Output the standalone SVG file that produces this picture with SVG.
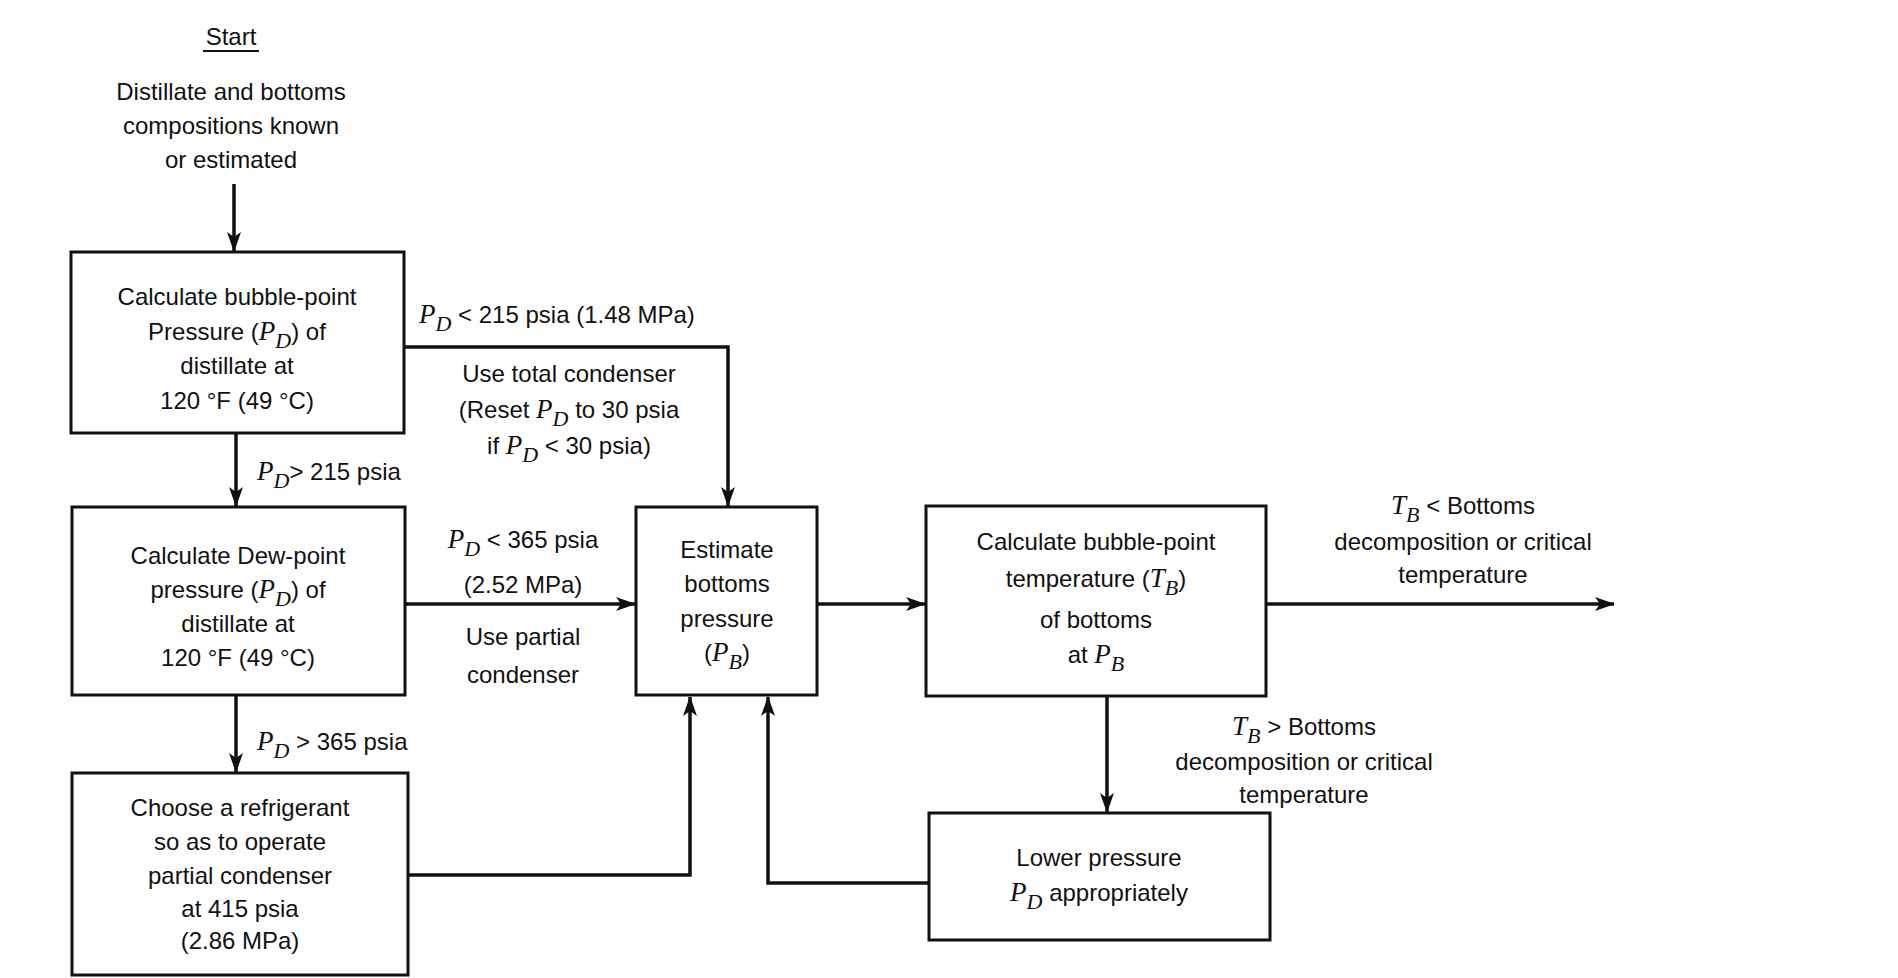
<svg xmlns="http://www.w3.org/2000/svg" width="1898" height="978" viewBox="0 0 1898 978">
<style>
text{font-family:"Liberation Sans",Arial,sans-serif;font-size:24px;fill:#111;text-anchor:middle}
.i{font-family:"Liberation Serif","Times New Roman",serif;font-style:italic;font-size:27px}
.s{font-family:"Liberation Serif","Times New Roman",serif;font-style:italic;font-size:22px}
.l{text-anchor:start}
rect{fill:#fff;stroke:#111;stroke-width:3}
.c{fill:none;stroke:#111;stroke-width:3.5}
</style>
<defs><marker id="a" viewBox="0 0 20 14" refX="19" refY="7" markerWidth="20" markerHeight="14" markerUnits="userSpaceOnUse" orient="auto"><path d="M0,0 L20,7 L0,14 L5,7 z" fill="#111"/></marker></defs>
<g id="start">
<text x="231" y="45">Start</text><line x1="203" y1="51" x2="259" y2="51" stroke="#111" stroke-width="2"/>
<text x="231" y="100">Distillate and bottoms</text>
<text x="231" y="134">compositions known</text>
<text x="231" y="168">or estimated</text>
</g>
<g id="connectors">
<path class="c" d="M234,184 V251" marker-end="url(#a)"/>
<path class="c" d="M404,347 H728 V506" marker-end="url(#a)"/>
<path class="c" d="M236,433 V506" marker-end="url(#a)"/>
<path class="c" d="M405,604 H635" marker-end="url(#a)"/>
<path class="c" d="M236,695 V772" marker-end="url(#a)"/>
<path class="c" d="M817,604 H925" marker-end="url(#a)"/>
<path class="c" d="M1266,604 H1614" marker-end="url(#a)"/>
<path class="c" d="M1107,696 V812" marker-end="url(#a)"/>
<path class="c" d="M929,883 H768 V697" marker-end="url(#a)"/>
<path class="c" d="M408,875 H690 V697" marker-end="url(#a)"/>
</g>
<g id="labels">
<text x="419" y="323" class="l"><tspan class="i">P</tspan><tspan class="s" dy="8">D</tspan><tspan dy="-8"> &lt; 215 psia (1.48 MPa)</tspan></text>
<text x="569" y="382">Use total condenser</text>
<text x="569" y="418">(Reset <tspan class="i">P</tspan><tspan class="s" dy="8">D</tspan><tspan dy="-8"> to 30 psia</tspan></text>
<text x="569" y="454">if <tspan class="i">P</tspan><tspan class="s" dy="8">D</tspan><tspan dy="-8"> &lt; 30 psia)</tspan></text>
<text x="257" y="480" class="l"><tspan class="i">P</tspan><tspan class="s" dy="8">D</tspan><tspan dy="-8">&gt; 215 psia</tspan></text>
<text x="523" y="548"><tspan class="i">P</tspan><tspan class="s" dy="8">D</tspan><tspan dy="-8"> &lt; 365 psia</tspan></text>
<text x="523" y="593">(2.52 MPa)</text>
<text x="523" y="645">Use partial</text>
<text x="523" y="683">condenser</text>
<text x="257" y="750" class="l"><tspan class="i">P</tspan><tspan class="s" dy="8">D</tspan><tspan dy="-8"> &gt; 365 psia</tspan></text>
<text x="1463" y="514"><tspan class="i">T</tspan><tspan class="s" dy="8">B</tspan><tspan dy="-8"> &lt; Bottoms</tspan></text>
<text x="1463" y="550">decomposition or critical</text>
<text x="1463" y="583">temperature</text>
<text x="1304" y="735"><tspan class="i">T</tspan><tspan class="s" dy="8">B</tspan><tspan dy="-8"> &gt; Bottoms</tspan></text>
<text x="1304" y="770">decomposition or critical</text>
<text x="1304" y="803">temperature</text>
</g>
<g id="n1"><rect x="71" y="252" width="333" height="181"/>
<text x="237" y="305">Calculate bubble-point</text>
<text x="237" y="340">Pressure (<tspan class="i">P</tspan><tspan class="s" dy="8">D</tspan><tspan dy="-8">) of</tspan></text>
<text x="237" y="374">distillate at</text>
<text x="237" y="409">120 °F (49 °C)</text></g>
<g id="n2"><rect x="72" y="507" width="333" height="188"/>
<text x="238" y="564">Calculate Dew-point</text>
<text x="238" y="598">pressure (<tspan class="i">P</tspan><tspan class="s" dy="8">D</tspan><tspan dy="-8">) of</tspan></text>
<text x="238" y="632">distillate at</text>
<text x="238" y="666">120 °F (49 °C)</text></g>
<g id="n3"><rect x="72" y="773" width="336" height="202"/>
<text x="240" y="816">Choose a refrigerant</text>
<text x="240" y="850">so as to operate</text>
<text x="240" y="884">partial condenser</text>
<text x="240" y="917">at 415 psia</text>
<text x="240" y="949">(2.86 MPa)</text></g>
<g id="n4"><rect x="636" y="507" width="181" height="188"/>
<text x="727" y="558">Estimate</text>
<text x="727" y="592">bottoms</text>
<text x="727" y="627">pressure</text>
<text x="727" y="661">(<tspan class="i">P</tspan><tspan class="s" dy="8">B</tspan><tspan dy="-8">)</tspan></text></g>
<g id="n5"><rect x="926" y="506" width="340" height="190"/>
<text x="1096" y="550">Calculate bubble-point</text>
<text x="1096" y="587">temperature (<tspan class="i">T</tspan><tspan class="s" dy="8">B</tspan><tspan dy="-8">)</tspan></text>
<text x="1096" y="628">of bottoms</text>
<text x="1096" y="663">at <tspan class="i">P</tspan><tspan class="s" dy="8">B</tspan></text></g>
<g id="n6"><rect x="929" y="813" width="341" height="127"/>
<text x="1099" y="866">Lower pressure</text>
<text x="1099" y="901"><tspan class="i">P</tspan><tspan class="s" dy="8">D</tspan><tspan dy="-8"> appropriately</tspan></text></g>
</svg>
